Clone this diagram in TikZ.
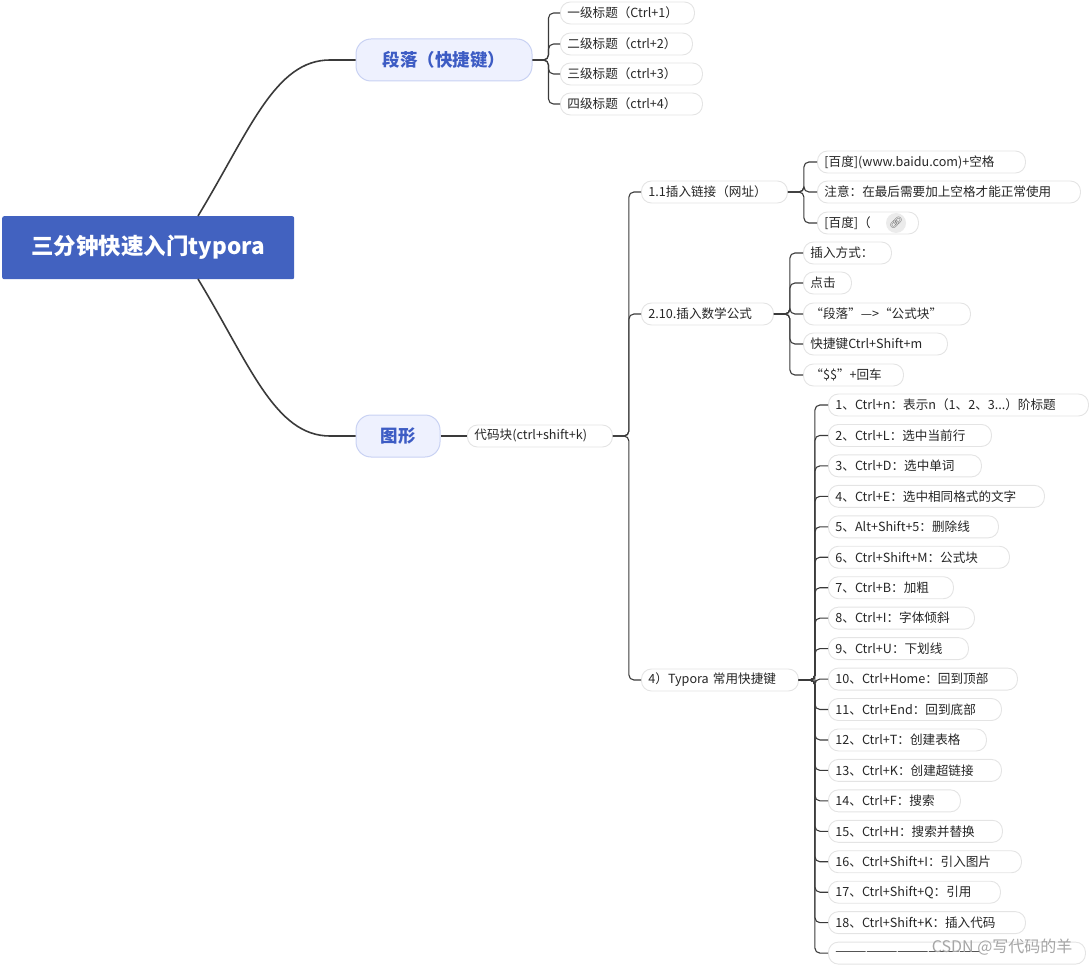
\documentclass[tikz,border=0pt]{standalone}
\usepackage{fontspec}
\setmainfont{Noto Sans CJK SC}
\newfontfamily\emo{Noto Emoji}
\definecolor{rootblue}{HTML}{4262C0}
\definecolor{lblue}{HTML}{EEF1FE}
\definecolor{bblue}{HTML}{C9D2F3}
\definecolor{tblue}{HTML}{3D5CC4}
\definecolor{pill}{HTML}{E4E4E4}
\definecolor{ln}{HTML}{3A3A3A}
\newcommand\leaf[5]{%
  \pgfmathsetmacro\ww{#3-#2-14}
  \node[leafbox,text width=\ww pt,anchor=west] (#1) at (#2,#4) {#5};}
\begin{document}
\begin{tikzpicture}[x=1pt,y=-1pt,
  leafbox/.style={draw=pill,line width=0.9pt,fill=white,rounded corners=10pt,minimum height=22pt,inner xsep=7pt,inner ysep=0pt,align=left,font=\fontsize{12.6}{14}\selectfont,text=black!85},
  l2/.style={draw=bblue,line width=1pt,fill=lblue,rounded corners=15pt,minimum height=42pt,font=\fontsize{17.5}{20}\selectfont\bfseries,text=tblue,inner xsep=0pt},
  conn/.style={draw=ln,line width=1.1pt,rounded corners=5pt},
  big/.style={draw=ln,line width=1.6pt}]
\useasboundingbox (0,0) rectangle (1089,968);
\node[fill=rootblue,rounded corners=2pt,minimum width=292pt,minimum height=63pt,text=white,font=\fontsize{22.5}{26}\selectfont\bfseries,anchor=north west] (root) at (2,216) {三分钟快速入门typora};
\node[l2,minimum width=176pt] (dl) at (444,60) {段落（快捷键）};
\node[l2,minimum width=84pt] (tx) at (398,436) {图形};
\draw[big] (198,216) .. controls (250,130) and (275,60) .. (330,60) -- (dl.west);
\draw[big] (198,279) .. controls (250,365) and (275,436) .. (330,436) -- (tx.west);
% paragraph children
\leaf{p1}{560}{694}{13}{一级标题（Ctrl+1）}
\leaf{p2}{560}{692}{44}{二级标题（ctrl+2）}
\leaf{p3}{560}{702}{74}{三级标题（ctrl+3）}
\leaf{p4}{560}{702}{104}{四级标题（ctrl+4）}
\foreach \c in {p1,p2,p3,p4}{\draw[conn] (dl.east) -- ++(16,0) |- (\c.west);}
\leaf{code}{467}{612}{436}{代码块(ctrl+shift+k)}
\draw[conn] (tx.east) -- (code.west);
\leaf{a}{641}{787}{192}{1.1插入链接（网址）}
\leaf{b}{641}{773}{314}{2.10.插入数学公式}
\leaf{c}{641}{798}{680}{4）Typora 常用快捷键}
\foreach \c in {a,b,c}{\draw[conn] (code.east) -- ++(16,0) |- (\c.west);}
\leaf{a1}{817}{1025}{162}{[百度](www.baidu.com)+空格}
\leaf{a2}{817}{1080}{192}{注意：在最后需要加上空格才能正常使用}
\leaf{a3}{817}{918}{223}{[百度]（}
\node[circle,fill=black!8,minimum size=20pt,inner sep=0pt,font=\emo\fontsize{11}{11}\selectfont,text=black!60] (lk) at (896,223) {🔗};
\foreach \c in {a1,a2,a3}{\draw[conn] (a.east) -- ++(16,0) |- (\c.west);}
\leaf{b1}{803}{891}{253}{插入方式：}
\leaf{b2}{803}{851}{283}{点击}
\leaf{b3}{803}{970}{314}{“段落”—>“公式块”}
\leaf{b4}{803}{947}{344}{快捷键Ctrl+Shift+m}
\leaf{b5}{803}{903}{375}{“\$\$”+回车}
\foreach \c in {b1,b2,b3,b4,b5}{\draw[conn] (b.east) -- ++(16,0) |- (\c.west);}
\foreach \i/\r/\t [count=\n] in {
 1/1088/{1、Ctrl+n：表示n（1、2、3...）阶标题},
 2/991/{2、Ctrl+L：选中当前行},
 3/981/{3、Ctrl+D：选中单词},
 4/1044/{4、Ctrl+E：选中相同格式的文字},
 5/998/{5、Alt+Shift+5：删除线},
 6/1009/{6、Ctrl+Shift+M：公式块},
 7/953/{7、Ctrl+B：加粗},
 8/974/{8、Ctrl+I：字体倾斜},
 9/968/{9、Ctrl+U：下划线},
 10/1017/{10、Ctrl+Home：回到顶部},
 11/1001/{11、Ctrl+End：回到底部},
 12/986/{12、Ctrl+T：创建表格},
 13/1001/{13、Ctrl+K：创建超链接},
 14/960/{14、Ctrl+F：搜索},
 15/1002/{15、Ctrl+H：搜索并替换},
 16/1021/{16、Ctrl+Shift+I：引入图片},
 17/1000/{17、Ctrl+Shift+Q：引用},
 18/1025/{18、Ctrl+Shift+K：插入代码},
 19/1085/{——————————————}}{
 \pgfmathsetmacro\yy{405+(\i-1)*30.45}
 \leaf{c\i}{828}{\r}{\yy}{\t}
 \draw[conn] (c.east) -- ++(16,0) |- (c\i.west);
}
\node[font=\fontsize{16}{18}\selectfont,text=black!35,anchor=east] (wm) at (1076,947) {CSDN @写代码的羊};
\end{tikzpicture}
\end{document}
